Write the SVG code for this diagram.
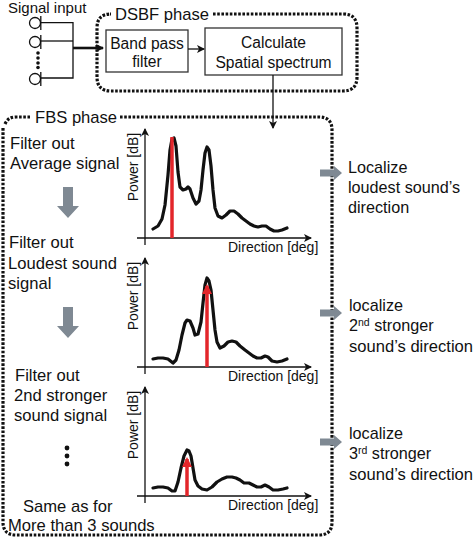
<svg xmlns="http://www.w3.org/2000/svg" width="474" height="544" viewBox="0 0 474 544">
<defs>
<style>
text{font-family:"Liberation Sans",Arial,sans-serif;fill:#111}
.t{font-size:16.6px}
.s{font-size:15px}
.b{font-size:15.6px}
.r{font-size:16.2px}
.ax{font-size:14px}
.ln{stroke:#111;stroke-width:1.3;fill:none}
.dot{stroke:#111;stroke-width:3.2;stroke-dasharray:2.6 1.6;fill:none}
.box{stroke:#333;stroke-width:1.3;fill:#fff}
.curve{stroke:#111;stroke-width:3.2;fill:none;stroke-linejoin:round;stroke-linecap:round}
.red{stroke:#e3262b;stroke-width:3.5;fill:none}
.gray{fill:#7f8993}
</style>
<marker id="ah" markerWidth="8" markerHeight="8" refX="7" refY="4" orient="auto" markerUnits="userSpaceOnUse">
<path d="M0,0 L8,4 L0,8 L2,4 Z" fill="#111"/>
</marker>
<marker id="ahr" markerWidth="10" markerHeight="10" refX="8" refY="5" orient="auto" markerUnits="userSpaceOnUse">
<path d="M0,0 L10,5 L0,10 Z" fill="#e3262b"/>
</marker>
</defs>

<g id="signal-input">
<text class="s" x="8" y="13">Signal input</text>
<g class="ln">
<circle cx="35" cy="23" r="5.5"/>
<circle cx="35" cy="42" r="5.5"/>
<circle cx="35" cy="79" r="5.5"/>
<line x1="40.8" y1="16" x2="40.8" y2="30"/>
<line x1="40.8" y1="35" x2="40.8" y2="49"/>
<line x1="40.8" y1="72" x2="40.8" y2="86"/>
<polyline points="41,22.7 73,22.7 73,78 41,78"/>
<line x1="41" y1="41" x2="73" y2="41"/>
</g>
<g fill="#111">
<circle cx="38" cy="53" r="1.8"/><circle cx="38" cy="58" r="1.8"/><circle cx="38" cy="63" r="1.8"/><circle cx="38" cy="67.5" r="1.8"/>
</g>
</g>

<g id="dsbf-phase">
<path class="dot" d="M110,14 L111,14 M213,14 L343,14 Q357,14 357,28 L357,77 Q357,91 343,91 L111,91 Q97,91 97,77 L97,28 Q97,14 111,14"/>
<text class="t" x="115" y="19.5">DSBF phase</text>
</g>

<g id="band-pass">
<rect class="box" x="106" y="30" width="82" height="42"/>
<text class="b" x="147" y="48.5" text-anchor="middle">Band pass</text>
<text class="b" x="147" y="66.5" text-anchor="middle">filter</text>
</g>

<g id="calculate">
<rect class="box" x="205" y="28" width="137" height="47"/>
<text class="b" x="273.5" y="47.5" text-anchor="middle">Calculate</text>
<text class="b" x="273.5" y="67.5" text-anchor="middle">Spatial spectrum</text>
</g>

<g id="fbs-phase">
<path class="dot" d="M5,124 Q8,117 16,117 L30,117 M120,117 L319,117 Q332,117 332,130 L332,522 Q332,535 319,535 L16,535 Q3,535 3,522 L3,128"/>
<text class="t" x="35" y="123">FBS phase</text>
</g>

<g id="left-steps">
<text class="t" x="10" y="149">Filter out</text>
<text class="t" x="10" y="169">Average signal</text>
<text class="t" x="9" y="248">Filter out</text>
<text class="t" x="8" y="269">Loudest sound</text>
<text class="t" x="8" y="289">signal</text>
<text class="t" x="15" y="381">Filter out</text>
<text class="t" x="14" y="401">2nd stronger</text>
<text class="t" x="14" y="421">sound signal</text>
<g fill="#111"><circle cx="67" cy="448" r="2.4"/><circle cx="67" cy="456" r="2.4"/><circle cx="67" cy="464" r="2.4"/></g>
<text class="t" x="23" y="512">Same as for</text>
<text class="t" x="8" y="531">More than 3 sounds</text>
<path class="gray" d="M63,187 L73,187 L73,206 L79,206 L68,218 L57,206 L63,206 Z"/>
<path class="gray" d="M63,307 L73,307 L73,326 L79,326 L68,338 L57,326 L63,326 Z"/>
</g>

<g id="chart-1">
<line class="ln" x1="145" y1="245" x2="145" y2="129" marker-end="url(#ah)"/>
<line class="ln" x1="137" y1="238" x2="311" y2="238" marker-end="url(#ah)"/>
<text class="ax" transform="translate(138,167) rotate(-90)" text-anchor="middle">Power [dB]</text>
<text class="ax" x="228" y="252">Direction [deg]</text>
<polyline class="curve" points="153,229 158,226 162,219 165,205 168,175 170,150 172,139 174,138 176,146 178,172 180,187 183,190 186,189 188,187 190,189 193,198 196,204 199,201 201,190 203,170 205,153 207,147 209,150 211,166 213,190 215,208 218,216 222,218 226,215 230,211 234,211 238,214 242,218 246,221 250,224 254,226 258,227 262,226 266,226 270,229 274,231 278,231 282,230 287,228"/>
<line class="red" x1="172" y1="238" x2="172" y2="137"/>
</g>

<g id="chart-2">
<line class="ln" x1="145" y1="374" x2="145" y2="258" marker-end="url(#ah)"/>
<line class="ln" x1="137" y1="367" x2="311" y2="367" marker-end="url(#ah)"/>
<text class="ax" transform="translate(138,296) rotate(-90)" text-anchor="middle">Power [dB]</text>
<text class="ax" x="228" y="381">Direction [deg]</text>
<polyline class="curve" points="153,359 158,358 163,358 168,359 173,363 176,360 179,350 182,335 185,323 187,320 190,321 193,328 195,335 198,334 201,322 203,303 205,285 207,278 209,281 211,290 213,310 215,330 217,342 220,348 224,346 228,342 232,341 236,342 240,346 245,350 249,353 253,356 257,358 261,358 265,356 268,357 272,361 277,362 282,361 287,359"/>
<line class="red" x1="207" y1="367" x2="207" y2="286" marker-end="url(#ahr)"/>
</g>

<g id="chart-3">
<line class="ln" x1="145" y1="503" x2="145" y2="387" marker-end="url(#ah)"/>
<line class="ln" x1="137" y1="496" x2="311" y2="496" marker-end="url(#ah)"/>
<text class="ax" transform="translate(138,425) rotate(-90)" text-anchor="middle">Power [dB]</text>
<text class="ax" x="228" y="510">Direction [deg]</text>
<polyline class="curve" points="153,488 158,487 163,487 168,488 172,491 175,491 178,482 181,468 184,456 187,450 189,451 191,456 193,468 195,480 198,486 202,489 207,490 212,487 217,482 222,479 227,477 232,477 236,478 240,480 244,483 249,483 253,485 257,487 261,487 265,485 269,487 273,490 278,490 283,489 287,488"/>
<line class="red" x1="187" y1="496" x2="187" y2="459" marker-end="url(#ahr)"/>
</g>

<g id="right-results">
<path class="gray" d="M320,169.5 L334,169.5 L334,166 L342,173 L334,180 L334,176.5 L320,176.5 Z"/>
<path class="gray" d="M320,309.5 L334,309.5 L334,306 L342,313 L334,320 L334,316.5 L320,316.5 Z"/>
<path class="gray" d="M320,438.5 L334,438.5 L334,435 L342,442 L334,449 L334,445.5 L320,445.5 Z"/>
<text class="r" x="348" y="173">Localize</text>
<text class="r" x="348" y="193">loudest sound’s</text>
<text class="r" x="348" y="213">direction</text>
<text class="r" x="349" y="311">localize</text>
<text class="r" x="349" y="331">2<tspan font-size="10.5" dy="-5">nd</tspan><tspan dy="5"> stronger</tspan></text>
<text class="r" x="349" y="352" textLength="124" lengthAdjust="spacingAndGlyphs">sound’s direction</text>
<text class="r" x="349" y="439">localize</text>
<text class="r" x="349" y="459">3<tspan font-size="10.5" dy="-5">rd</tspan><tspan dy="5"> stronger</tspan></text>
<text class="r" x="349" y="480" textLength="124" lengthAdjust="spacingAndGlyphs">sound’s direction</text>
</g>

<g id="connectors">
<line x1="73" y1="48" x2="103" y2="48" stroke="#111" stroke-width="2.6" marker-end="url(#ah)"/>
<line class="ln" x1="188" y1="49" x2="204" y2="49" marker-end="url(#ah)"/>
<line class="ln" x1="273" y1="75" x2="273" y2="128" marker-end="url(#ah)"/>
</g>
</svg>
